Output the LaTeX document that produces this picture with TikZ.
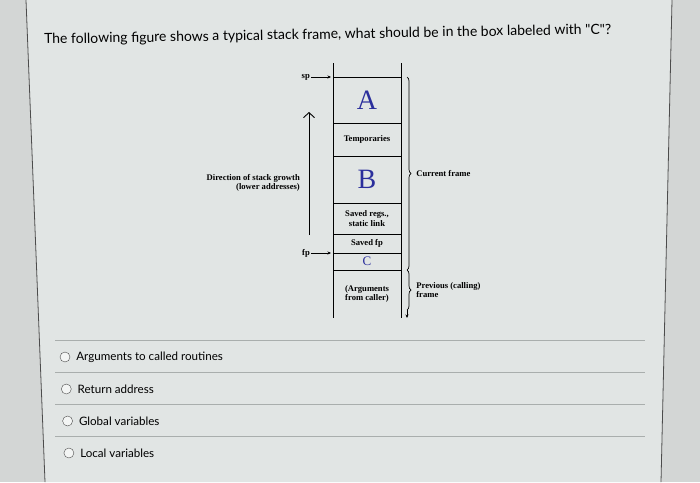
\documentclass[tikz,border=0pt]{standalone}
\usepackage{fontspec}
\newfontfamily\latofont{Lato}
\newfontfamily\figfont{Liberation Serif}
\usetikzlibrary{
  positioning,
  decorations.pathreplacing,
  arrows.meta,
  }
\definecolor{paper}{HTML}{E1E5E4}
\definecolor{desk}{HTML}{D3D6D5}
\definecolor{letterblue}{HTML}{2B2F9C}
\definecolor{ruleline}{HTML}{A9AEAD}

\begin{document}
\begin{tikzpicture}[x=1pt, y=1pt,
    cell/.style={draw, outer sep=0pt, inner sep=0pt, minimum width=68pt, align=center,
                 font=\figfont\fontsize{8.6}{9.6}\selectfont\bfseries},
    bigletter/.style={text=letterblue, font=\figfont\fontsize{28}{28}\selectfont},
    smallnote/.style={font=\figfont\fontsize{8.6}{9.6}\selectfont\bfseries, inner sep=1pt},
    ptr/.style={-{Stealth[length=3.5pt,width=3pt]}, shorten >=2pt},
    bracey/.style={decorate, decoration={brace, amplitude=4pt}, line width=0.7pt},
    optcircle/.style={circle, draw=black!70, fill=white!60!paper, minimum size=10pt, inner sep=0pt},
    opttext/.style={font=\latofont\fontsize{11.6}{13}\selectfont, inner sep=0pt, anchor=west},
  ]
  % page
  \useasboundingbox (0,0) rectangle (700,-482);
  \fill[desk] (0,0) rectangle (700,-482);
  \fill[paper] (26,0) -- (672,0) -- (661,-482) -- (45,-482) -- cycle;
  \draw[black!70, line width=0.8pt] (26,0) -- (45,-482);
  \draw[black!70, line width=0.8pt] (672,0) -- (661,-482);

  % question
  \node[font=\latofont\fontsize{14}{16}\selectfont, anchor=west, rotate=1, inner sep=0pt] (title)
    at (44,-40) {The following figure shows a typical stack frame, what should be in the box labeled with "C"?};

  % stack
  \node[cell, bigletter, minimum height=46pt] (A) at (367,-100) {A};
  \node[cell, minimum height=33pt, below=0pt of A] (temp) {Temporaries};
  \node[cell, bigletter, minimum height=47pt, below=0pt of temp] (B) {B};
  \node[cell, minimum height=31pt, below=0pt of B] (regs) {Saved regs.,\\static link};
  \node[cell, minimum height=19pt, below=0pt of regs] (savedfp) {Saved fp};
  \node[cell, minimum height=17pt, below=0pt of savedfp, text=letterblue,
        font=\figfont\fontsize{13}{13}\selectfont] (C) {C};
  \node[cell, draw=none, minimum height=48pt, below=0pt of C] (args) {(Arguments\\from caller)};
  \draw[line width=0.7pt] ([yshift=14pt]A.north west) -- (args.south west);
  \draw[line width=0.7pt] ([yshift=14pt]A.north east) -- (args.south east);

  % pointers
  \node[smallnote, left=22pt of A.north west] (sp) {sp};
  \draw[ptr] (sp) -- (A.north west);
  \node[smallnote, left=22pt of C.north west] (fp) {fp};
  \draw[ptr] (fp) -- (C.north west);

  % growth
  \coordinate (gbot) at (309,-235);
  \coordinate (gtop) at (309,-112);
  \draw[line width=0.9pt, -{Straight Barb[length=5pt,width=11pt]}] (gbot) -- (gtop);
  \node[smallnote, align=right, anchor=east] (growth) at (301,-183)
    {Direction of stack growth\\(lower addresses)};

  % frames
  \draw[bracey] ([xshift=6pt]A.north east) -- ([xshift=6pt]C.south east)
    node[midway, right=8pt, smallnote] (cur) {Current frame};
  \draw[bracey] ([xshift=6pt]C.south east) -- ([xshift=6pt, yshift=8pt]args.south east)
    node[midway, right=8pt, smallnote, align=left] (prev) {Previous (calling)\\frame};
  \draw[line width=0.7pt, -{Stealth[length=3.5pt,width=3pt]}] ([xshift=6pt, yshift=8pt]args.south east) -- ([xshift=6pt]args.south east);

  % answers
  \foreach \txt [count=\i] in {Arguments to called routines, Return address, Global variables, Local variables}{
    \draw[ruleline, line width=0.6pt] (55,{-340-32*(\i-1)}) -- (645,{-340-32*(\i-1)});
    \node[optcircle] (c\i) at ({65+1.3*(\i-1)},{-357-32*(\i-1)}) {};
    \node[opttext, right=6pt of c\i] (o\i) {\txt};
  }
\end{tikzpicture}
\end{document}
